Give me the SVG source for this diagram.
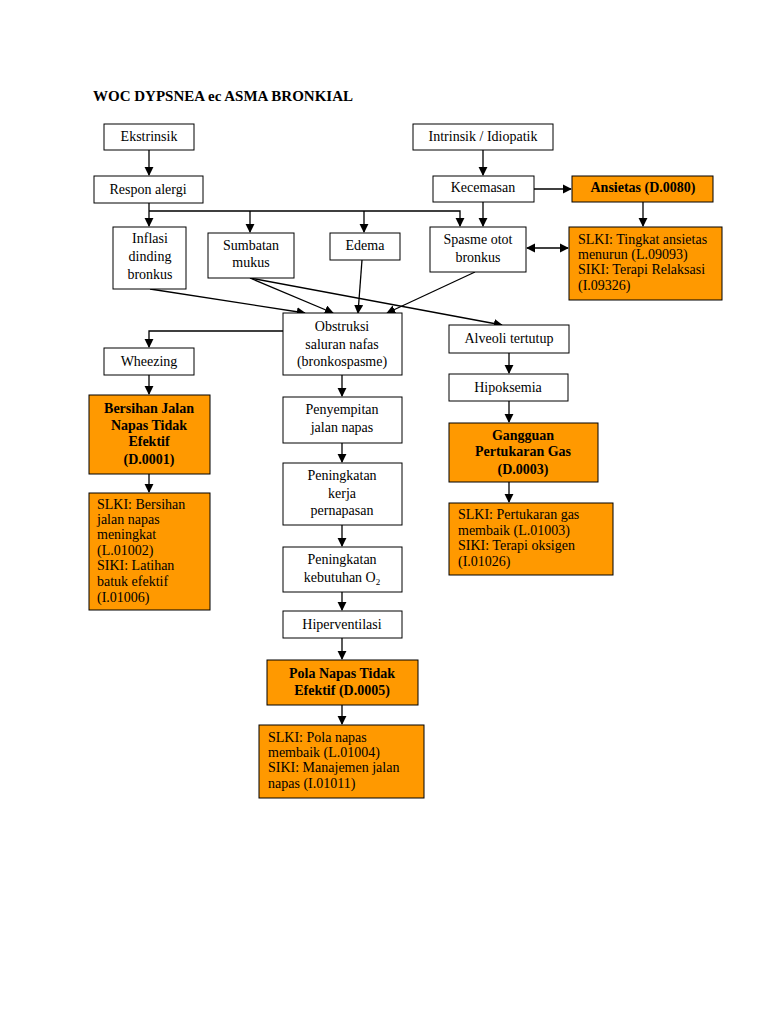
<svg xmlns="http://www.w3.org/2000/svg" width="768" height="1024" viewBox="0 0 768 1024">
<style>
rect{fill:#fff;stroke:#000;stroke-width:1}
rect.o{fill:#ff9900}
text{font-family:"Liberation Serif",serif;font-size:14px;fill:#000}
.c{text-anchor:middle}
.b{font-weight:bold}
#conn path{fill:none;stroke:#000;stroke-width:1.3}
</style>
<defs><marker id="a" viewBox="0 0 10 10" refX="9" refY="5" markerWidth="7" markerHeight="7" orient="auto-start-reverse"><path d="M0,0L10,5L0,10z" fill="#000"/></marker></defs>
<rect x="0" y="0" width="768" height="1024" style="stroke:none"/>
<text x="93" y="101" class="b" style="font-size:15px">WOC DYPSNEA ec ASMA BRONKIAL</text>
<g id="conn">
<path d="M149,150V175" marker-end="url(#a)"/>
<path d="M483,150V175" marker-end="url(#a)"/>
<path d="M149,203V226" marker-end="url(#a)"/>
<path d="M149,211H460V226" marker-end="url(#a)"/>
<path d="M250,211V232" marker-end="url(#a)"/>
<path d="M364,211V232" marker-end="url(#a)"/>
<path d="M483,202V226" marker-end="url(#a)"/>
<path d="M534,189H571" marker-end="url(#a)"/>
<path d="M643,202V226" marker-end="url(#a)"/>
<path d="M527,248H568" marker-start="url(#a)" marker-end="url(#a)"/>
<path d="M150,289L305,313" marker-end="url(#a)"/>
<path d="M250,278L333,313" marker-end="url(#a)"/>
<path d="M250,278L502,325" marker-end="url(#a)"/>
<path d="M362,260L358,313" marker-end="url(#a)"/>
<path d="M475,272L387,313" marker-end="url(#a)"/>
<path d="M283,331H149V347" marker-end="url(#a)"/>
<path d="M149,375V394" marker-end="url(#a)"/>
<path d="M149,474V492" marker-end="url(#a)"/>
<path d="M342,375V396" marker-end="url(#a)"/>
<path d="M342,443V462" marker-end="url(#a)"/>
<path d="M342,525V546" marker-end="url(#a)"/>
<path d="M342,592V610" marker-end="url(#a)"/>
<path d="M342,638V659" marker-end="url(#a)"/>
<path d="M342,705V724" marker-end="url(#a)"/>
<path d="M509,353V373" marker-end="url(#a)"/>
<path d="M509,401V422" marker-end="url(#a)"/>
<path d="M509,482V502" marker-end="url(#a)"/>
</g>
<g id="ekstrinsik"><rect x="104" y="124" width="90" height="26"/><text x="149" y="141" class="c">Ekstrinsik</text></g>
<g id="intrinsik"><rect x="413" y="124" width="140" height="26"/><text x="483" y="141" class="c">Intrinsik / Idiopatik</text></g>
<g id="respon"><rect x="94" y="176" width="109" height="27"/><text x="148" y="194" class="c">Respon alergi</text></g>
<g id="kecemasan"><rect x="433" y="176" width="101" height="26"/><text x="483" y="192" class="c">Kecemasan</text></g>
<g id="ansietas"><rect class="o" x="572" y="176" width="141" height="26"/><text x="643" y="192" class="c b">Ansietas (D.0080)</text></g>
<g id="inflasi"><rect x="113" y="227" width="73" height="62"/><text x="150" y="243" class="c">Inflasi</text><text x="150" y="261" class="c">dinding</text><text x="150" y="279" class="c">bronkus</text></g>
<g id="sumbatan"><rect x="208" y="233" width="86" height="45"/><text x="251" y="250" class="c">Sumbatan</text><text x="251" y="267" class="c">mukus</text></g>
<g id="edema"><rect x="330" y="233" width="70" height="27"/><text x="365" y="250" class="c">Edema</text></g>
<g id="spasme"><rect x="430" y="227" width="96" height="45"/><text x="478" y="244" class="c">Spasme otot</text><text x="478" y="262" class="c">bronkus</text></g>
<g id="slki-ansietas"><rect class="o" x="569" y="227" width="153" height="73"/><text x="578" y="244">SLKI: Tingkat ansietas</text><text x="578" y="259">menurun (L.09093)</text><text x="578" y="274">SIKI: Terapi Relaksasi</text><text x="578" y="290">(I.09326)</text></g>
<g id="obstruksi"><rect x="283" y="313" width="119" height="62"/><text x="342" y="331" class="c">Obstruksi</text><text x="342" y="349" class="c">saluran nafas</text><text x="342" y="366" class="c">(bronkospasme)</text></g>
<g id="alveoli"><rect x="449" y="325" width="120" height="28"/><text x="509" y="343" class="c">Alveoli tertutup</text></g>
<g id="wheezing"><rect x="104" y="348" width="90" height="27"/><text x="149" y="366" class="c">Wheezing</text></g>
<g id="hipoksemia"><rect x="449" y="374" width="119" height="27"/><text x="508" y="392" class="c">Hipoksemia</text></g>
<g id="bersihan"><rect class="o" x="89" y="395" width="121" height="79"/><text x="149" y="413" class="c b">Bersihan Jalan</text><text x="149" y="430" class="c b">Napas Tidak</text><text x="149" y="446" class="c b">Efektif</text><text x="149" y="464" class="c b">(D.0001)</text></g>
<g id="penyempitan"><rect x="283" y="397" width="119" height="46"/><text x="342" y="414" class="c">Penyempitan</text><text x="342" y="432" class="c">jalan napas</text></g>
<g id="gangguan"><rect class="o" x="449" y="423" width="149" height="59"/><text x="523" y="440" class="c b">Gangguan</text><text x="523" y="456" class="c b">Pertukaran Gas</text><text x="523" y="474" class="c b">(D.0003)</text></g>
<g id="kerja"><rect x="283" y="463" width="119" height="62"/><text x="342" y="480" class="c">Peningkatan</text><text x="342" y="498" class="c">kerja</text><text x="342" y="515" class="c">pernapasan</text></g>
<g id="slki-bersihan"><rect class="o" x="89" y="493" width="121" height="117"/><text x="97" y="509">SLKI: Bersihan</text><text x="97" y="524">jalan napas</text><text x="97" y="539">meningkat</text><text x="97" y="555">(L.01002)</text><text x="97" y="570">SIKI: Latihan</text><text x="97" y="586">batuk efektif</text><text x="97" y="602">(I.01006)</text></g>
<g id="slki-gangguan"><rect class="o" x="449" y="503" width="164" height="72"/><text x="458" y="519">SLKI: Pertukaran gas</text><text x="458" y="535">membaik (L.01003)</text><text x="458" y="550">SIKI: Terapi oksigen</text><text x="458" y="566">(I.01026)</text></g>
<g id="kebutuhan"><rect x="283" y="547" width="119" height="45"/><text x="342" y="564" class="c">Peningkatan</text><text x="342" y="582" class="c">kebutuhan O<tspan dy="3" style="font-size:9px">2</tspan></text></g>
<g id="hiperventilasi"><rect x="283" y="611" width="119" height="27"/><text x="342" y="629" class="c">Hiperventilasi</text></g>
<g id="pola"><rect class="o" x="267" y="660" width="151" height="45"/><text x="342" y="678" class="c b">Pola Napas Tidak</text><text x="342" y="695" class="c b">Efektif (D.0005)</text></g>
<g id="slki-pola"><rect class="o" x="259" y="725" width="165" height="73"/><text x="268" y="742">SLKI: Pola napas</text><text x="268" y="757">membaik (L.01004)</text><text x="268" y="772">SIKI: Manajemen jalan</text><text x="268" y="788">napas (I.01011)</text></g>
</svg>
